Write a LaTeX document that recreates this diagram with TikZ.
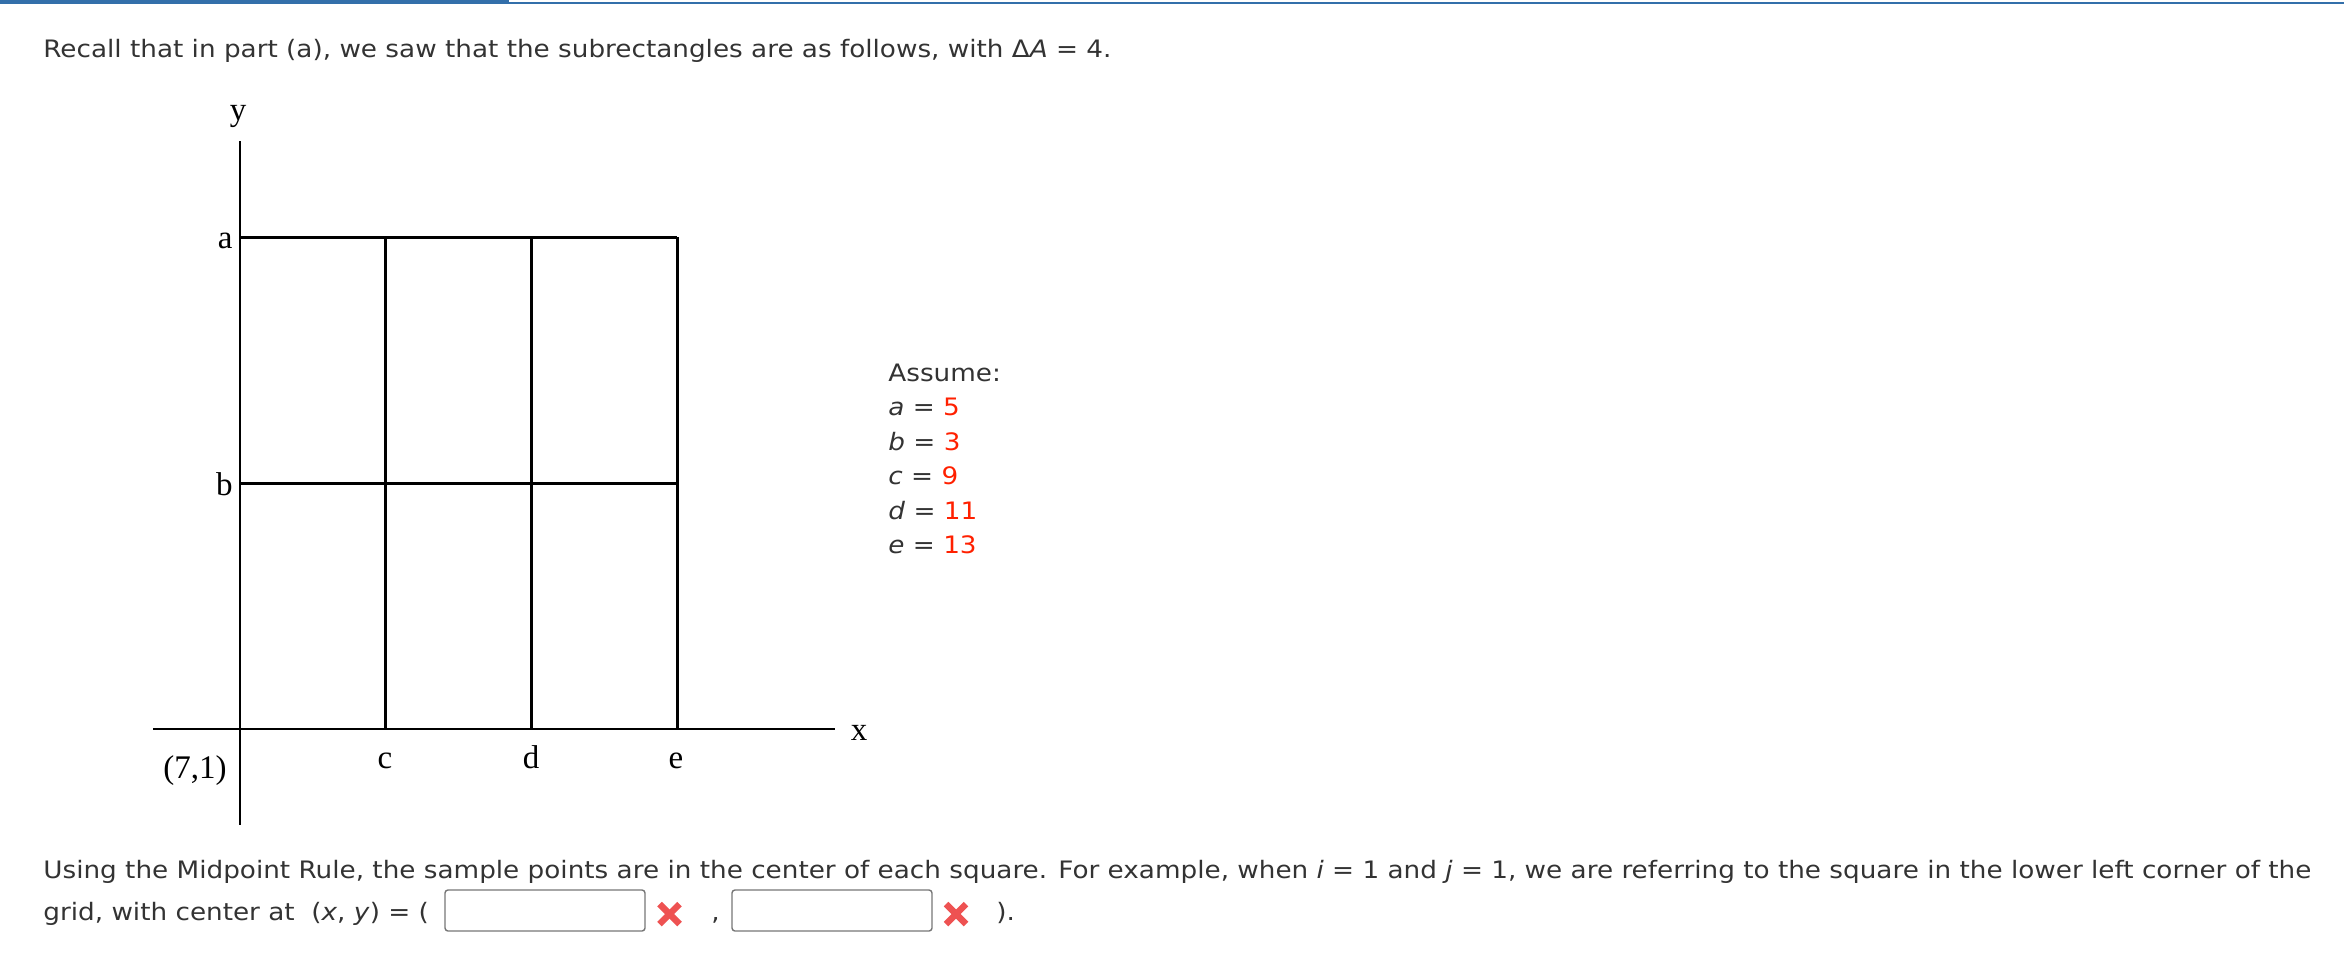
\documentclass[tikz,border=0pt]{standalone}
\usepackage{fontspec}
\setmainfont{DejaVu Sans}[FakeStretch=1.094]
\newfontfamily\serifL{Liberation Serif}
\definecolor{txt}{RGB}{51,51,51}
\definecolor{barblue}{RGB}{51,111,170}
\definecolor{ansred}{RGB}{255,32,0}
\definecolor{boxgray}{RGB}{118,118,118}
\definecolor{xred}{RGB}{238,82,82}
\begin{document}
\begin{tikzpicture}[x=0.5pt,y=-0.5pt,
  webtext/.style={inner sep=0pt,anchor=base west,text=txt,font=\fontsize{12}{14}\selectfont},
  glabel/.style={inner sep=0pt,anchor=base,text=black,font=\fontsize{16.5}{18}\serifL},
  gridline/.style={line width=1.5pt,black},
  axisline/.style={line width=1pt,black},
  ansbox/.style={draw=boxgray,line width=0.7pt,rounded corners=1.5pt,minimum width=100pt,minimum height=20.5pt,inner sep=0pt},
  xmark/.style={line width=3.2pt,xred}]
\useasboundingbox (0,0) rectangle (2344,960);
% top bar
\fill[barblue] (0,2) rectangle (2344,4);
\fill[barblue] (0,0) rectangle (509,4);
% heading
\node[webtext] (head) at (43,57) {Recall that in part (a), we saw that the subrectangles are as follows, with Δ\textit{A} = 4.};
% graph coordinates
\coordinate (ytop) at (240,141);
\coordinate (ybot) at (240,825);
\coordinate (xl) at (153,729);
\coordinate (xr) at (835,729);
\coordinate (a0) at (240,237);
\coordinate (a1) at (385,237);
\coordinate (a2) at (531,237);
\coordinate (a3) at (677,237);
\coordinate (b0) at (240,483);
\coordinate (b3) at (677,483);
\coordinate (c0) at (385,729);
\coordinate (d0) at (531,729);
\coordinate (e0) at (677,729);
\draw[axisline] (ytop) -- (ybot);
\draw[axisline] (xl) -- (xr);
\draw[gridline] (a0) -- (a3);
\draw[gridline] (b0) -- (b3);
\draw[gridline] (a1) -- (c0);
\draw[gridline] (a2) -- (d0);
\draw[gridline] (a3) -- (e0);
% labels
\node[glabel] (ylab) at (238,120) {y};
\node[glabel,anchor=base east] (alab) at (233,248) {a};
\node[glabel,anchor=base east] (blab) at (233,495) {b};
\node[glabel] (clab) at (385,768) {c};
\node[glabel] (dlab) at (531,768) {d};
\node[glabel] (elab) at (676,768) {e};
\node[glabel] (xlab) at (859,740) {x};
\node[glabel] (olab) at (195,778) {(7,1)};
% assume block
\node[webtext] (as0) at (888,381) {Assume:};
\node[webtext] (as1) at (888,415) {\textit{a} = \textcolor{ansred}{5}};
\node[webtext] (as2) at (888,450) {\textit{b} = \textcolor{ansred}{3}};
\node[webtext] (as3) at (888,484) {\textit{c} = \textcolor{ansred}{9}};
\node[webtext] (as4) at (888,519) {\textit{d} = \textcolor{ansred}{11}};
\node[webtext] (as5) at (888,553) {\textit{e} = \textcolor{ansred}{13}};
% bottom text
\node[webtext] (l1) at (43,878) {Using the Midpoint Rule, the sample points are in the center of each square. For example, when \textit{i} = 1 and \textit{j} = 1, we are referring to the square in the lower left corner of the};
\node[webtext] (l2) at (43,920) {grid, with center at\ \ (\textit{x}, \textit{y}) = (};
\node[ansbox] (box1) at (545,910.5) {};
\node[ansbox] (box2) at (832,910.5) {};
\coordinate (x1) at (669.5,914);
\coordinate (x2) at (956,914);
\draw[xmark] ([shift={(-10,-10)}]x1) -- ([shift={(10,10)}]x1);
\draw[xmark] ([shift={(-10,10)}]x1) -- ([shift={(10,-10)}]x1);
\draw[xmark] ([shift={(-10,-10)}]x2) -- ([shift={(10,10)}]x2);
\draw[xmark] ([shift={(-10,10)}]x2) -- ([shift={(10,-10)}]x2);
\node[webtext] (comma) at (711,920) {,};
\node[webtext] (close) at (996,920) {).};
\end{tikzpicture}
\end{document}
